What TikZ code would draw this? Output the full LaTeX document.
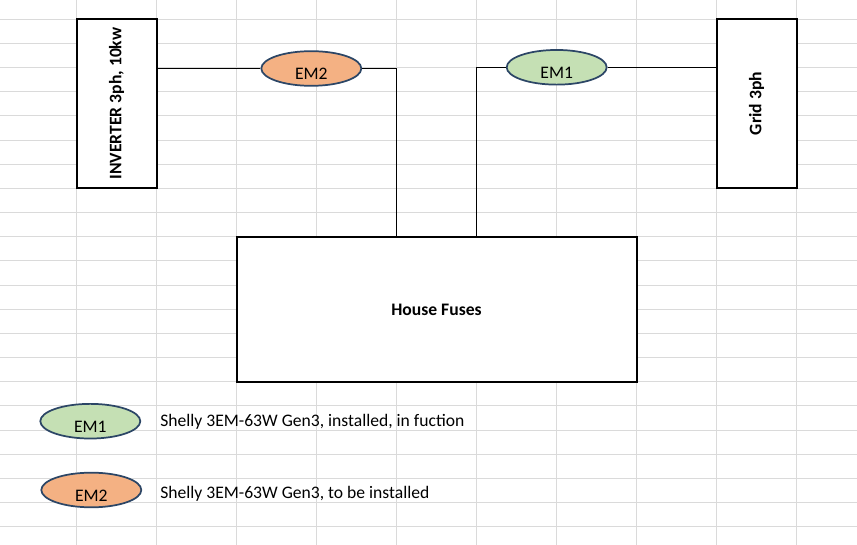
\documentclass[tikz,border=0pt]{standalone}
\usepackage{fontspec}
\setmainfont{Carlito}
\usepackage{graphicx}
\usepackage{xcolor}
\usepackage{tikz}
\usetikzlibrary{shapes.geometric, positioning, calc}
\definecolor{gridline}{RGB}{218, 218, 218}
\definecolor{emgreen}{RGB}{197, 224, 180}
\definecolor{emorange}{RGB}{244, 177, 131}
\definecolor{emedge}{RGB}{44, 70, 102}
\newcommand{\emtext}[1]{\raisebox{-8.6pt}[0pt][0pt]{#1}}

\begin{document}
\begin{tikzpicture}[x=0.75pt, y=-0.75pt,
  unitbox/.style={rectangle, draw=black, line width=1.5pt, fill=white,
    font=\fontsize{13.2pt}{15pt}\selectfont\bfseries,
    text centered, inner sep=0pt},
  meter/.style={ellipse, draw=emedge, line width=1.3pt,
    minimum width=75pt, minimum height=26pt, inner sep=0pt,
    font=\fontsize{13.2pt}{15pt}\selectfont},
  wire/.style={draw=black, line width=0.75pt},
  keytxt/.style={anchor=west, inner sep=0pt,
    font=\fontsize{13.2pt}{15pt}\selectfont}
]
\useasboundingbox (0,0) rectangle (857,545);
\fill[white] (0,0) rectangle (857,545);
% sheet grid
\foreach \gx in {0,...,9}
  \draw[gridline, line width=0.75pt] ({76.5+80*\gx},0) -- ({76.5+80*\gx},545);
\foreach \gy in {0,...,21}
  \draw[gridline, line width=0.75pt] (0,{19.3+24.16*\gy}) -- (857,{19.3+24.16*\gy});

\node[unitbox, minimum width=60pt, minimum height=126.75pt]  at (116.5, 103.5) (inv)  {\rotatebox{90}{INVERTER 3ph, 10kw}};
\node[unitbox, minimum width=60pt, minimum height=126.75pt]  at (756.5, 103.5) (grid) {\rotatebox{90}{Grid 3ph}};
\node[unitbox, minimum width=300pt, minimum height=108.75pt] at (436.5, 309.5) (fuse) {House Fuses};

\node[meter, fill=emorange] at (311.3, 68.5) (em2) {\emtext{EM2}};
\node[meter, fill=emgreen]  at (556.7, 67.3) (em1) {\emtext{EM1}};

\coordinate (tapL) at (396.5, 237);
\coordinate (tapR) at (476.5, 237);
\draw[wire] (em2.west -| inv.east) -- (em2.west);
\draw[wire] (em2.east) -| (tapL);
\draw[wire] (em1.west) -| (tapR);
\draw[wire] (em1.east) -- (em1.east -| grid.west);

% key
\node[meter, fill=emgreen]  at (90.3, 421.2) (key1) {\emtext{EM1}};
\node[meter, fill=emorange] at (91.3, 490)   (key2) {\emtext{EM2}};
\node[keytxt] at (160, 421.5) (key1txt) {Shelly 3EM-63W Gen3, installed, in fuction};
\node[keytxt] at (160, 493.5) (key2txt) {Shelly 3EM-63W Gen3, to be installed};
\end{tikzpicture}
\end{document}
